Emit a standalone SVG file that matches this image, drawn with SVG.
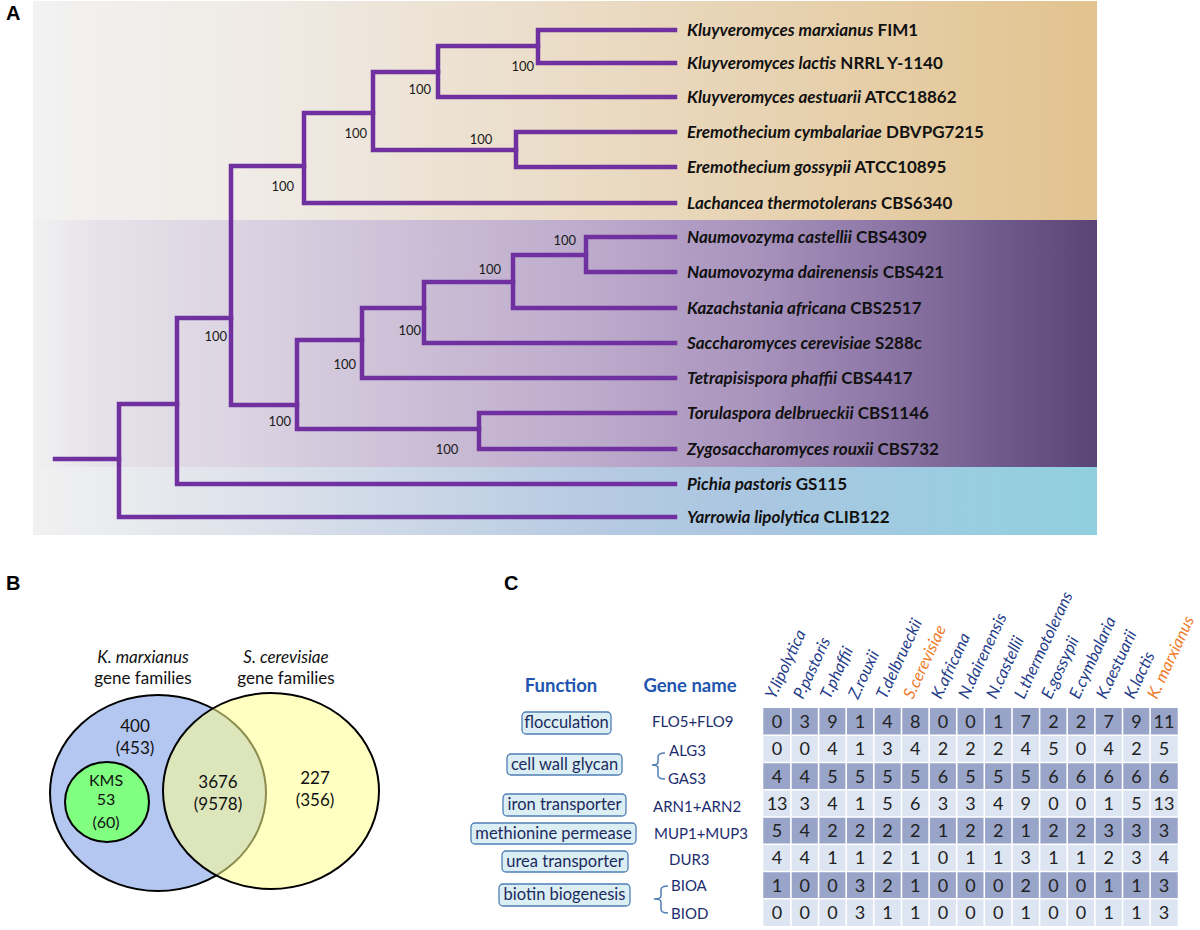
<svg xmlns="http://www.w3.org/2000/svg" width="1200" height="930" viewBox="0 0 1200 930">
<style>
text{font-family:Lato,"Open Sans","Liberation Sans",sans-serif}
.panel{font-family:"Liberation Sans",Arial,sans-serif;font-weight:bold;font-size:20px;fill:#000}
.br{fill:none;stroke:#7030a0;stroke-width:4.5;stroke-linecap:square;stroke-linejoin:miter}
.bs{font-size:13px;fill:#1a1a1a}
.sp{font-size:17px;font-weight:bold;fill:#111}
.sp tspan.i{font-style:italic}
.vn{font-size:17px;fill:#111;text-anchor:middle}
.vk{font-size:16px;fill:#111;text-anchor:middle}
.hd{font-size:18.5px;font-weight:bold;fill:#2155b0;text-anchor:middle}
.fbox{fill:#dbeef4;stroke:#4f7fb5;stroke-width:1.3}
.ft{font-size:16.5px;fill:#1b2a5e;text-anchor:middle}
.gn{font-size:15px;fill:#1b2d6e}
.brace{fill:none;stroke:#4f7fb5;stroke-width:1.5}
.dk{fill:#98a4c8}
.lt{fill:#dce5f1}
.sep{fill:none;stroke:#fff;stroke-width:1.6}
.cv{font-size:18px;fill:#222;text-anchor:middle}
.ch{font-size:16.5px;font-style:italic;fill:#1f3c88}
.ch.o{fill:#f07a2a}
</style>
<defs>
<linearGradient id="gO" gradientUnits="userSpaceOnUse" x1="33" y1="0" x2="1097" y2="0">
<stop offset="0" stop-color="#f2f2f2"/><stop offset="0.25" stop-color="#efe9e2"/><stop offset="0.53" stop-color="#eadbc4"/><stop offset="1" stop-color="#e2c38f"/>
</linearGradient>
<linearGradient id="gP" gradientUnits="userSpaceOnUse" x1="33" y1="0" x2="1097" y2="0">
<stop offset="0" stop-color="#f1f1f1"/><stop offset="0.06" stop-color="#e6e2ea"/><stop offset="0.19" stop-color="#dcd4e2"/><stop offset="0.36" stop-color="#ccbed6"/><stop offset="0.53" stop-color="#bcaacb"/><stop offset="0.68" stop-color="#a893bd"/><stop offset="0.81" stop-color="#8a74a4"/><stop offset="0.91" stop-color="#6e5a8a"/><stop offset="1" stop-color="#5a4476"/>
</linearGradient>
<linearGradient id="gB" gradientUnits="userSpaceOnUse" x1="33" y1="0" x2="1097" y2="0">
<stop offset="0" stop-color="#f1f1f1"/><stop offset="0.19" stop-color="#dfe3eb"/><stop offset="0.53" stop-color="#b6cae2"/><stop offset="0.68" stop-color="#aac6e1"/><stop offset="0.91" stop-color="#97cee0"/><stop offset="1" stop-color="#90cfde"/>
</linearGradient>
</defs>
<rect width="1200" height="930" fill="#fff"/>

<!-- Panel A -->
<g id="panelA-bg">
<rect x="33" y="1" width="1064" height="219" fill="url(#gO)"/>
<rect x="33" y="220" width="1064" height="247" fill="url(#gP)"/>
<rect x="33" y="467" width="1064" height="68" fill="url(#gB)"/>
</g>
<text class="panel" x="6" y="20">A</text>

<g id="connectors">
<path class="br" d="M538,30 V63 M538,30 H675 M538,63 H675"/>
<path class="br" d="M438,46 V97 M438,46 H538 M438,97 H675"/>
<path class="br" d="M516,132 V167 M516,132 H675 M516,167 H675"/>
<path class="br" d="M373,72 V150 M373,72 H438 M373,150 H516"/>
<path class="br" d="M304,113 V203 M304,113 H373 M304,203 H675"/>
<path class="br" d="M586,237 V272 M586,237 H675 M586,272 H675"/>
<path class="br" d="M513,255 V308 M513,255 H586 M513,308 H675"/>
<path class="br" d="M424,282 V343 M424,282 H513 M424,343 H675"/>
<path class="br" d="M362,308 V378 M362,308 H424 M362,378 H675"/>
<path class="br" d="M479,413 V449 M479,413 H675 M479,449 H675"/>
<path class="br" d="M297,340 V429 M297,340 H362 M297,429 H479"/>
<path class="br" d="M231,166 V405 M231,166 H304 M231,405 H297"/>
<path class="br" d="M177,318 V484 M177,318 H231 M177,484 H675"/>
<path class="br" d="M119,404 V517 M119,404 H177 M119,517 H675"/>
<path class="br" d="M55,459 H119"/>
</g>

<g id="bootstrap">
<text class="bs" x="534" y="71" text-anchor="end">100</text>
<text class="bs" x="431" y="94" text-anchor="end">100</text>
<text class="bs" x="481" y="144" text-anchor="middle">100</text>
<text class="bs" x="367" y="138" text-anchor="end">100</text>
<text class="bs" x="294" y="191" text-anchor="end">100</text>
<text class="bs" x="576" y="245" text-anchor="end">100</text>
<text class="bs" x="501" y="274" text-anchor="end">100</text>
<text class="bs" x="421" y="335" text-anchor="end">100</text>
<text class="bs" x="356" y="369" text-anchor="end">100</text>
<text class="bs" x="227" y="341" text-anchor="end">100</text>
<text class="bs" x="291" y="426" text-anchor="end">100</text>
<text class="bs" x="447" y="454" text-anchor="middle">100</text>
</g>

<g id="leaves">
<text class="sp" x="687" y="36"><tspan class="i">Kluyveromyces marxianus</tspan> FIM1</text>
<text class="sp" x="687" y="69"><tspan class="i">Kluyveromyces lactis</tspan> NRRL Y-1140</text>
<text class="sp" x="687" y="103"><tspan class="i">Kluyveromyces aestuarii</tspan> ATCC18862</text>
<text class="sp" x="687" y="138"><tspan class="i">Eremothecium cymbalariae</tspan> DBVPG7215</text>
<text class="sp" x="687" y="173"><tspan class="i">Eremothecium gossypii</tspan> ATCC10895</text>
<text class="sp" x="687" y="209"><tspan class="i">Lachancea thermotolerans</tspan> CBS6340</text>
<text class="sp" x="687" y="243"><tspan class="i">Naumovozyma castellii</tspan> CBS4309</text>
<text class="sp" x="687" y="278"><tspan class="i">Naumovozyma dairenensis</tspan> CBS421</text>
<text class="sp" x="687" y="314"><tspan class="i">Kazachstania africana</tspan> CBS2517</text>
<text class="sp" x="687" y="349"><tspan class="i">Saccharomyces cerevisiae</tspan> S288c</text>
<text class="sp" x="687" y="384"><tspan class="i">Tetrapisispora phaffii</tspan> CBS4417</text>
<text class="sp" x="687" y="419"><tspan class="i">Torulaspora delbrueckii</tspan> CBS1146</text>
<text class="sp" x="687" y="455"><tspan class="i">Zygosaccharomyces rouxii</tspan> CBS732</text>
<text class="sp" x="687" y="490"><tspan class="i">Pichia pastoris</tspan> GS115</text>
<text class="sp" x="687" y="523"><tspan class="i">Yarrowia lipolytica</tspan> CLIB122</text>
</g>

<!-- Panel B -->
<text class="panel" x="6" y="590">B</text>
<g id="venn-km">
<ellipse cx="158" cy="793" rx="108" ry="98" fill="#b4c7f0" stroke="#000" stroke-width="2"/>
</g>
<g id="venn-sc">
<ellipse cx="271" cy="791" rx="108" ry="98" fill="#ffff90" fill-opacity="0.55" stroke="#000" stroke-width="2"/>
</g>
<g id="venn-kms">
<ellipse cx="107" cy="802" rx="42" ry="40" fill="#80ff80" stroke="#000" stroke-width="2"/>
<text class="vk" x="106" y="786">KMS</text>
<text class="vk" x="106" y="805">53</text>
<text class="vk" x="106" y="828">(60)</text>
</g>
<g id="venn-labels">
<text class="vn" x="143" y="663"><tspan font-style="italic">K. marxianus</tspan></text>
<text class="vn" x="143" y="684">gene families</text>
<text class="vn" x="286" y="663"><tspan font-style="italic">S. cerevisiae</tspan></text>
<text class="vn" x="286" y="684">gene families</text>
<text class="vn" x="135" y="732">400</text>
<text class="vn" x="135" y="754">(453)</text>
<text class="vn" x="218" y="788">3676</text>
<text class="vn" x="218" y="810">(9578)</text>
<text class="vn" x="315" y="784">227</text>
<text class="vn" x="315" y="806">(356)</text>
</g>

<!-- Panel C -->
<text class="panel" x="504" y="590">C</text>
<text class="hd" x="561" y="692">Function</text>
<text class="hd" x="690" y="692">Gene name</text>

<g id="func-floc"><rect class="fbox" x="522" y="712" width="89" height="22" rx="4"/><text class="ft" x="566.5" y="728">flocculation</text></g>
<g id="func-cell"><rect class="fbox" x="507" y="754" width="115" height="21" rx="4"/><text class="ft" x="564.5" y="770">cell wall glycan</text></g>
<g id="func-iron"><rect class="fbox" x="503" y="794" width="123" height="22" rx="4"/><text class="ft" x="564.5" y="810">iron transporter</text></g>
<g id="func-met"><rect class="fbox" x="471" y="823" width="165" height="21" rx="4"/><text class="ft" x="553.5" y="839">methionine permease</text></g>
<g id="func-urea"><rect class="fbox" x="502" y="851" width="126" height="21" rx="4"/><text class="ft" x="565" y="867">urea transporter</text></g>
<g id="func-bio"><rect class="fbox" x="499" y="884" width="131" height="22" rx="4"/><text class="ft" x="564.5" y="900">biotin biogenesis</text></g>

<g id="genes">
<text class="gn" x="652" y="727">FLO5+FLO9</text>
<text class="gn" x="669" y="756">ALG3</text>
<text class="gn" x="668" y="784">GAS3</text>
<text class="gn" x="653" y="812">ARN1+ARN2</text>
<text class="gn" x="654" y="839">MUP1+MUP3</text>
<text class="gn" x="669" y="865">DUR3</text>
<text class="gn" x="671" y="891">BIOA</text>
<text class="gn" x="671" y="919">BIOD</text>
<path class="brace" d="M665,753 Q658,753 658,757 V762 Q658,765 652,765 Q658,765 658,768 V775 Q658,779 665,779"/>
<path class="brace" d="M668,886 Q661,886 661,890 V896 Q661,899 654,899 Q661,899 661,902 V909 Q661,913 668,913"/>
</g>

<g id="col-headers">
<text class="ch" transform="translate(775,700) rotate(-65)">Y.lipolytica</text>
<text class="ch" transform="translate(803,700) rotate(-65)">P.pastoris</text>
<text class="ch" transform="translate(830,700) rotate(-65)">T.phaffii</text>
<text class="ch" transform="translate(858,700) rotate(-65)">Z.rouxii</text>
<text class="ch" transform="translate(886,700) rotate(-65)">T.delbrueckii</text>
<text class="ch o" transform="translate(913,700) rotate(-65)">S.cerevisiae</text>
<text class="ch" transform="translate(941,700) rotate(-65)">K.africana</text>
<text class="ch" transform="translate(968,700) rotate(-65)">N.dairenensis</text>
<text class="ch" transform="translate(996,700) rotate(-65)">N.castellii</text>
<text class="ch" transform="translate(1024,700) rotate(-65)">L.thermotolerans</text>
<text class="ch" transform="translate(1051,700) rotate(-65)">E.gossypii</text>
<text class="ch" transform="translate(1079,700) rotate(-65)">E.cymbalaria</text>
<text class="ch" transform="translate(1106,700) rotate(-65)">K.aestuarii</text>
<text class="ch" transform="translate(1134,700) rotate(-65)">K.lactis</text>
<text class="ch o" transform="translate(1157,700) rotate(-65)">K. marxianus</text>
</g>

<g id="table">
<rect class="dk" x="763.3" y="708" width="414.4" height="27.25"/>
<rect class="lt" x="763.3" y="735.25" width="414.4" height="27.25"/>
<rect class="dk" x="763.3" y="762.5" width="414.4" height="27.25"/>
<rect class="lt" x="763.3" y="789.75" width="414.4" height="27.25"/>
<rect class="dk" x="763.3" y="817" width="414.4" height="27.25"/>
<rect class="lt" x="763.3" y="844.25" width="414.4" height="27.25"/>
<rect class="dk" x="763.3" y="871.5" width="414.4" height="27.25"/>
<rect class="lt" x="763.3" y="898.75" width="414.4" height="27.25"/>
<path class="sep" d="M790.9,708 V926 M818.6,708 V926 M846.2,708 V926 M873.8,708 V926 M901.5,708 V926 M929.1,708 V926 M956.7,708 V926 M984.3,708 V926 M1012,708 V926 M1039.6,708 V926 M1067.2,708 V926 M1094.9,708 V926 M1122.5,708 V926 M1150.1,708 V926 M763.3,735.25 H1177.7 M763.3,762.5 H1177.7 M763.3,789.75 H1177.7 M763.3,817 H1177.7 M763.3,844.25 H1177.7 M763.3,871.5 H1177.7 M763.3,898.75 H1177.7"/>
<text class="cv" y="728"><tspan x="777.1">0</tspan><tspan x="804.7">3</tspan><tspan x="832.4">9</tspan><tspan x="860">1</tspan><tspan x="887.6">4</tspan><tspan x="915.3">8</tspan><tspan x="942.9">0</tspan><tspan x="970.5">0</tspan><tspan x="998.2">1</tspan><tspan x="1025.8">7</tspan><tspan x="1053.5">2</tspan><tspan x="1081.1">2</tspan><tspan x="1108.7">7</tspan><tspan x="1136.4">9</tspan><tspan x="1164">11</tspan></text>
<text class="cv" y="755.3"><tspan x="777.1">0</tspan><tspan x="804.7">0</tspan><tspan x="832.4">4</tspan><tspan x="860">1</tspan><tspan x="887.6">3</tspan><tspan x="915.3">4</tspan><tspan x="942.9">2</tspan><tspan x="970.5">2</tspan><tspan x="998.2">2</tspan><tspan x="1025.8">4</tspan><tspan x="1053.5">5</tspan><tspan x="1081.1">0</tspan><tspan x="1108.7">4</tspan><tspan x="1136.4">2</tspan><tspan x="1164">5</tspan></text>
<text class="cv" y="782.5"><tspan x="777.1">4</tspan><tspan x="804.7">4</tspan><tspan x="832.4">5</tspan><tspan x="860">5</tspan><tspan x="887.6">5</tspan><tspan x="915.3">5</tspan><tspan x="942.9">6</tspan><tspan x="970.5">5</tspan><tspan x="998.2">5</tspan><tspan x="1025.8">5</tspan><tspan x="1053.5">6</tspan><tspan x="1081.1">6</tspan><tspan x="1108.7">6</tspan><tspan x="1136.4">6</tspan><tspan x="1164">6</tspan></text>
<text class="cv" y="809.8"><tspan x="777.1">13</tspan><tspan x="804.7">3</tspan><tspan x="832.4">4</tspan><tspan x="860">1</tspan><tspan x="887.6">5</tspan><tspan x="915.3">6</tspan><tspan x="942.9">3</tspan><tspan x="970.5">3</tspan><tspan x="998.2">4</tspan><tspan x="1025.8">9</tspan><tspan x="1053.5">0</tspan><tspan x="1081.1">0</tspan><tspan x="1108.7">1</tspan><tspan x="1136.4">5</tspan><tspan x="1164">13</tspan></text>
<text class="cv" y="837"><tspan x="777.1">5</tspan><tspan x="804.7">4</tspan><tspan x="832.4">2</tspan><tspan x="860">2</tspan><tspan x="887.6">2</tspan><tspan x="915.3">2</tspan><tspan x="942.9">1</tspan><tspan x="970.5">2</tspan><tspan x="998.2">2</tspan><tspan x="1025.8">1</tspan><tspan x="1053.5">2</tspan><tspan x="1081.1">2</tspan><tspan x="1108.7">3</tspan><tspan x="1136.4">3</tspan><tspan x="1164">3</tspan></text>
<text class="cv" y="864.3"><tspan x="777.1">4</tspan><tspan x="804.7">4</tspan><tspan x="832.4">1</tspan><tspan x="860">1</tspan><tspan x="887.6">2</tspan><tspan x="915.3">1</tspan><tspan x="942.9">0</tspan><tspan x="970.5">1</tspan><tspan x="998.2">1</tspan><tspan x="1025.8">3</tspan><tspan x="1053.5">1</tspan><tspan x="1081.1">1</tspan><tspan x="1108.7">2</tspan><tspan x="1136.4">3</tspan><tspan x="1164">4</tspan></text>
<text class="cv" y="891.5"><tspan x="777.1">1</tspan><tspan x="804.7">0</tspan><tspan x="832.4">0</tspan><tspan x="860">3</tspan><tspan x="887.6">2</tspan><tspan x="915.3">1</tspan><tspan x="942.9">0</tspan><tspan x="970.5">0</tspan><tspan x="998.2">0</tspan><tspan x="1025.8">2</tspan><tspan x="1053.5">0</tspan><tspan x="1081.1">0</tspan><tspan x="1108.7">1</tspan><tspan x="1136.4">1</tspan><tspan x="1164">3</tspan></text>
<text class="cv" y="918.8"><tspan x="777.1">0</tspan><tspan x="804.7">0</tspan><tspan x="832.4">0</tspan><tspan x="860">3</tspan><tspan x="887.6">1</tspan><tspan x="915.3">1</tspan><tspan x="942.9">0</tspan><tspan x="970.5">0</tspan><tspan x="998.2">0</tspan><tspan x="1025.8">1</tspan><tspan x="1053.5">0</tspan><tspan x="1081.1">0</tspan><tspan x="1108.7">1</tspan><tspan x="1136.4">1</tspan><tspan x="1164">3</tspan></text>
</g>
</svg>
